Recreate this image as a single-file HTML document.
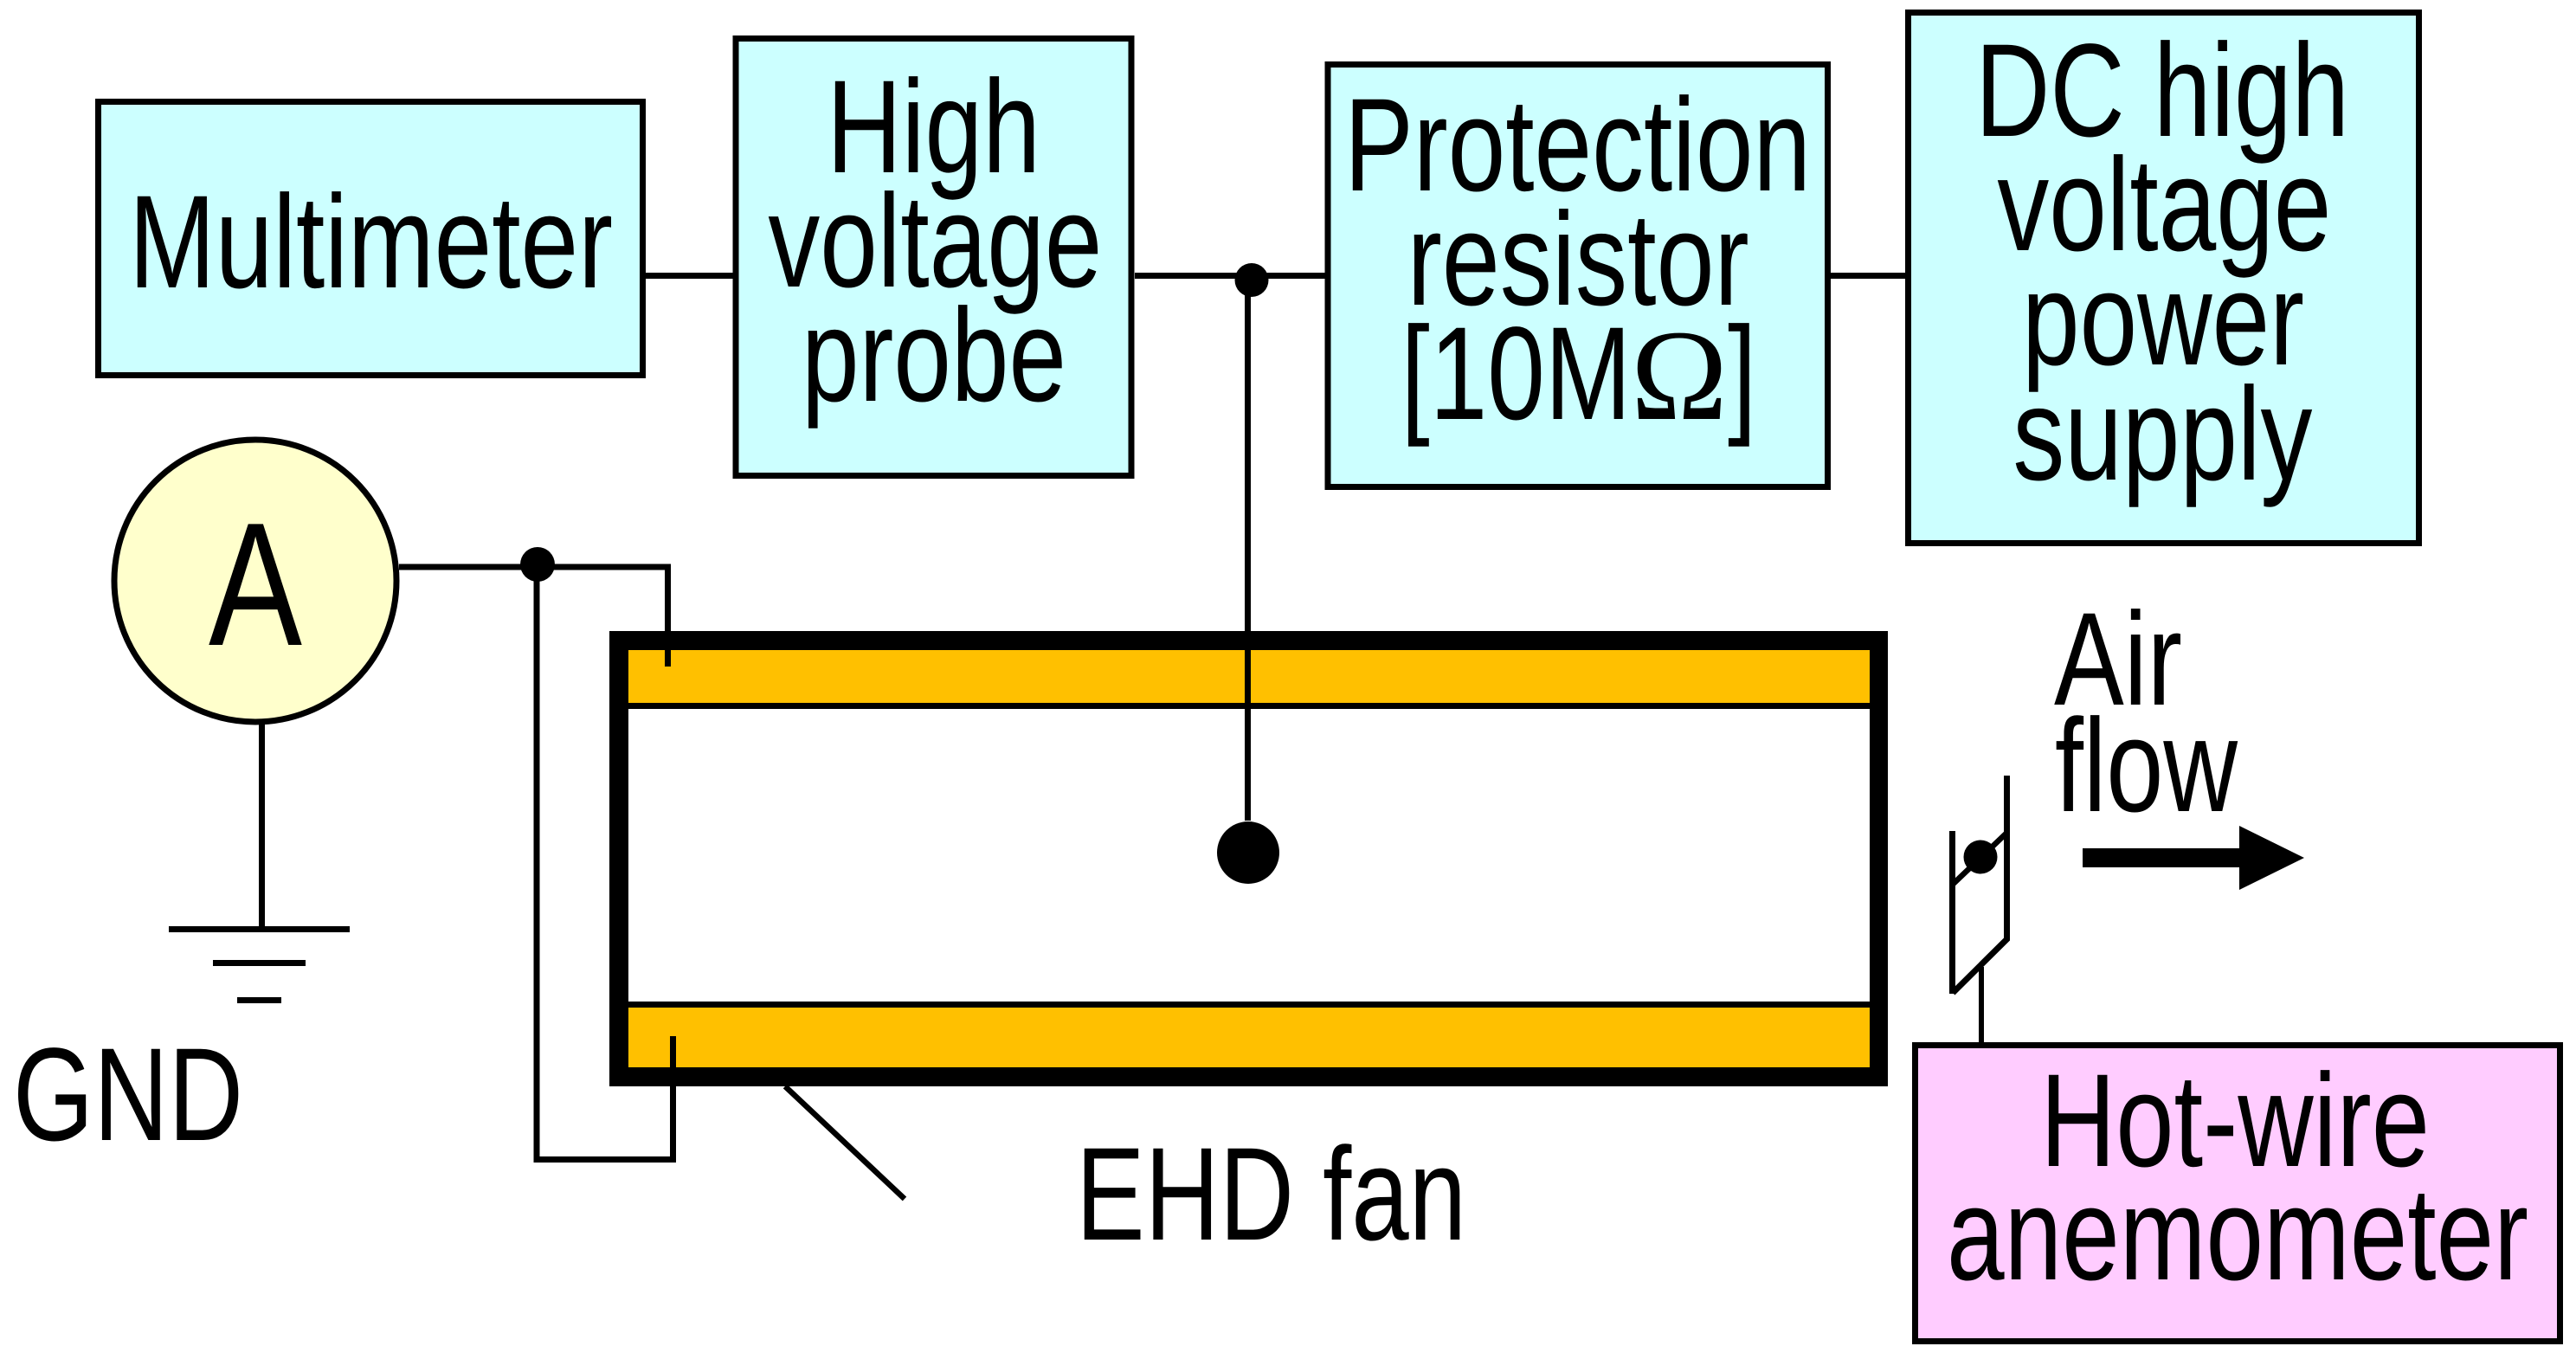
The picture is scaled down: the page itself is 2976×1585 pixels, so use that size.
<!DOCTYPE html>
<html><head><meta charset="utf-8"><style>
html,body{margin:0;padding:0;background:#fff;width:2976px;height:1585px;overflow:hidden}
svg{display:block}
text{font-family:"Liberation Sans",sans-serif;font-size:153px;fill:#000}
</style></head><body>
<svg width="2976" height="1585" viewBox="0 0 2976 1585" xmlns="http://www.w3.org/2000/svg">
<rect width="2976" height="1585" fill="#fff"/>
<g stroke="#000" stroke-width="7" fill="none">
<path d="M746 318.5H847M1311 318.5H1531M2115 318.5H2201"/>
</g>
<g stroke="#000" stroke-width="7" fill="#CCFFFF">
<rect x="113.5" y="117.5" width="629" height="316"/>
<rect x="850" y="44.5" width="457" height="505"/>
<rect x="1534" y="74.5" width="577.5" height="488"/>
<rect x="2204.5" y="14.5" width="590" height="613"/>
<rect x="2212.5" y="1207.5" width="745" height="342" fill="#FFCCFF"/>
</g>
<!-- fan -->
<rect x="704" y="729" width="1477" height="526" fill="#000"/>
<rect x="726" y="751" width="1434" height="61" fill="#FFC000"/>
<rect x="726" y="819" width="1434" height="338" fill="#fff"/>
<rect x="726" y="1164" width="1434" height="69" fill="#FFC000"/>
<!-- ammeter -->
<circle cx="295" cy="671" r="163" fill="#FFFFCC" stroke="#000" stroke-width="7"/>
<g stroke="#000" stroke-width="7" fill="none">
<path d="M461 655H771.5V770"/>
<path d="M620 652V1339.5H777.5V1197"/>
<path d="M1441.5 323V948"/>
<path d="M302.5 837V1071"/>
<path d="M907 1255L1045 1385" stroke-width="6.5"/>
<path d="M2255.5 960V1148"/>
<path d="M2256 1147L2318.5 1085V896"/>
<path d="M2255.5 1022L2318.5 962" stroke-width="6.5"/>
<path d="M2289 1117V1204" stroke-width="6"/>
</g>
<g fill="#000">
<circle cx="1446" cy="323.5" r="19.5"/>
<circle cx="1442" cy="985" r="36"/>
<circle cx="621" cy="652" r="20"/>
<circle cx="2288" cy="990" r="19.5"/>
<rect x="195" y="1070" width="209" height="7"/>
<rect x="246" y="1109" width="107" height="7"/>
<rect x="274" y="1152" width="51" height="7"/>
<polygon points="2406,980 2587,980 2587,954 2662,991 2587,1028 2587,1002 2406,1002"/>
</g>
<g>
<text x="149" y="332" textLength="559" lengthAdjust="spacingAndGlyphs">Multimeter</text>
<text x="955" y="199" textLength="247" lengthAdjust="spacingAndGlyphs">High</text>
<text x="887.4" y="331" textLength="386" lengthAdjust="spacingAndGlyphs">voltage</text>
<text x="926" y="463" textLength="306" lengthAdjust="spacingAndGlyphs">probe</text>
<text x="1553" y="220" textLength="539" lengthAdjust="spacingAndGlyphs">Protection</text>
<text x="1625.7" y="352" textLength="395" lengthAdjust="spacingAndGlyphs">resistor</text>
<text x="1618.5" y="484" textLength="266" lengthAdjust="spacingAndGlyphs">[10M</text>
<text x="1884" y="484" textLength="112" lengthAdjust="spacingAndGlyphs" style="font-family:'Liberation Serif',serif;font-size:150px">Ω</text>
<text x="1996" y="484" textLength="33.3" lengthAdjust="spacingAndGlyphs">]</text>
<text x="2282" y="157" textLength="432" lengthAdjust="spacingAndGlyphs">DC high</text>
<text x="2307.4" y="289" textLength="386" lengthAdjust="spacingAndGlyphs">voltage</text>
<text x="2336" y="421" textLength="326" lengthAdjust="spacingAndGlyphs">power</text>
<text x="2325.4" y="554" textLength="346" lengthAdjust="spacingAndGlyphs">supply</text>
<text x="2373" y="814" textLength="148" lengthAdjust="spacingAndGlyphs">Air</text>
<text x="2374" y="937" textLength="211" lengthAdjust="spacingAndGlyphs">flow</text>
<text x="2357" y="1347" textLength="450" lengthAdjust="spacingAndGlyphs">Hot-wire</text>
<text x="2249" y="1478" textLength="672" lengthAdjust="spacingAndGlyphs">anemometer</text>
<text x="1243" y="1432" textLength="451" lengthAdjust="spacingAndGlyphs">EHD fan</text>
<text x="15" y="1317" textLength="266" lengthAdjust="spacingAndGlyphs">GND</text>
<text x="241" y="745" textLength="108" lengthAdjust="spacingAndGlyphs" style="font-size:203px">A</text>
</g>
</svg>
</body></html>
